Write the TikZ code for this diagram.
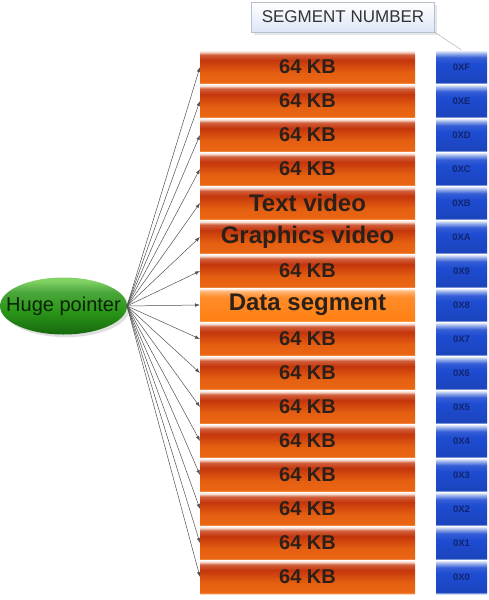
\documentclass[tikz,border=0pt]{standalone}
\usepackage{fontspec}
\setmainfont{Liberation Sans}
\usetikzlibrary{shadows, arrows.meta, positioning, shapes}
\definecolor{my_red}{RGB}{196, 54, 12}
\definecolor{my_orange}{RGB}{234, 102, 18}
\definecolor{my_pink}{RGB}{246, 212, 200}
\definecolor{my_line}{RGB}{252, 214, 180}
\definecolor{my_dataorange}{RGB}{255, 128, 18}
\definecolor{my_blue}{RGB}{30, 76, 210}
\definecolor{my_paleblue}{RGB}{206, 220, 244}
\definecolor{my_darkblue}{RGB}{18, 36, 110}
\definecolor{my_green}{RGB}{42, 150, 24}
\definecolor{my_darkgreen}{RGB}{22, 104, 14}
\definecolor{my_lightgreen}{RGB}{130, 210, 100}
\definecolor{my_text}{RGB}{44, 32, 24}
\definecolor{my_arrow}{RGB}{80, 80, 80}
\pgfdeclareverticalshading{segshade}{100bp}{color(0bp)=(my_line); color(25bp)=(my_line); color(27bp)=(my_orange); color(42bp)=(my_orange!85!my_red); color(60bp)=(my_red); color(68bp)=(my_red!75!my_pink); color(72bp)=(my_pink); color(75bp)=(white); color(100bp)=(white)}
\pgfdeclareverticalshading{datashade}{100bp}{color(0bp)=(my_line); color(25bp)=(my_line); color(27bp)=(my_dataorange); color(62bp)=(my_dataorange!90!white); color(70bp)=(my_dataorange!60!white); color(75bp)=(white); color(100bp)=(white)}
\pgfdeclareverticalshading{numshade}{100bp}{color(0bp)=(my_paleblue); color(25bp)=(my_paleblue); color(28bp)=(my_blue!90!black); color(55bp)=(my_blue); color(64bp)=(my_blue!90!white); color(70bp)=(my_paleblue!70!my_blue); color(75bp)=(white); color(100bp)=(white)}
\pgfdeclareverticalshading{greenshade}{100bp}{color(0bp)=(my_darkgreen); color(25bp)=(my_darkgreen); color(45bp)=(my_green); color(62bp)=(my_green!85!white); color(72bp)=(my_lightgreen); color(75bp)=(my_lightgreen); color(100bp)=(my_lightgreen)}
\tikzset {
  seg/.style = {rectangle, minimum width=215pt, minimum height=34pt, inner sep=0, shading=segshade, text=my_text, font=\fontsize{20}{22}\selectfont\bfseries},
  bigseg/.style = {seg, font=\fontsize{24}{26}\selectfont\bfseries},
  dataseg/.style = {bigseg, shading=datashade},
  num/.style = {rectangle, minimum width=51pt, minimum height=34pt, inner sep=0, shading=numshade, text=my_darkblue, font=\fontsize{9.5}{10}\selectfont\bfseries},
  pointer/.style = {ellipse, minimum width=127pt, minimum height=57pt, inner xsep=-14pt, inner ysep=0pt, shading=greenshade, text=my_darkgreen!35!black, font=\fontsize{20}{22}\selectfont, drop shadow={opacity=0.25}},
  title/.style = {rectangle, draw=my_paleblue!70!gray, minimum width=183pt, minimum height=30pt, top color=white, bottom color=my_paleblue!70!white, text=black!80, font=\fontsize{17}{19}\selectfont, drop shadow={opacity=0.2}},
  line/.style = {-{Latex[length=5pt, width=3.5pt]}, line width=0.5pt, color=my_arrow},
  callout/.style = {line width=0.5pt, color=gray!60}
}

\begin{document}
\begin{tikzpicture}[x=1pt, y=-1pt, outer sep=0, node distance=0pt]
    \useasboundingbox (0,0) rectangle (489,600);

    \node[seg, name=segF] (segF) at (307.5,67) {64 KB};
    \node[seg, below=0pt of segF] (segE) {64 KB};
    \node[seg, below=0pt of segE] (segD) {64 KB};
    \node[seg, below=0pt of segD] (segC) {64 KB};
    \node[bigseg, below=0pt of segC] (segB) {Text video};
    \node[bigseg, below=0pt of segB] (segA) {Graphics video};
    \node[seg, below=0pt of segA] (seg9) {64 KB};
    \node[dataseg, below=0pt of seg9] (seg8) {Data segment};
    \node[seg, below=0pt of seg8] (seg7) {64 KB};
    \node[seg, below=0pt of seg7] (seg6) {64 KB};
    \node[seg, below=0pt of seg6] (seg5) {64 KB};
    \node[seg, below=0pt of seg5] (seg4) {64 KB};
    \node[seg, below=0pt of seg4] (seg3) {64 KB};
    \node[seg, below=0pt of seg3] (seg2) {64 KB};
    \node[seg, below=0pt of seg2] (seg1) {64 KB};
    \node[seg, below=0pt of seg1] (seg0) {64 KB};

    \node[num, right=21pt of segF] (numF) {0XF};
    \node[num, below=0pt of numF] (numE) {0XE};
    \node[num, below=0pt of numE] (numD) {0XD};
    \node[num, below=0pt of numD] (numC) {0XC};
    \node[num, below=0pt of numC] (numB) {0XB};
    \node[num, below=0pt of numB] (numA) {0XA};
    \node[num, below=0pt of numA] (num9) {0X9};
    \node[num, below=0pt of num9] (num8) {0X8};
    \node[num, below=0pt of num8] (num7) {0X7};
    \node[num, below=0pt of num7] (num6) {0X6};
    \node[num, below=0pt of num6] (num5) {0X5};
    \node[num, below=0pt of num5] (num4) {0X4};
    \node[num, below=0pt of num4] (num3) {0X3};
    \node[num, below=0pt of num3] (num2) {0X2};
    \node[num, below=0pt of num2] (num1) {0X1};
    \node[num, below=0pt of num1] (num0) {0X0};

    \node[title] (segnumber) at (343,17) {SEGMENT NUMBER};
    \draw[callout] (segnumber.south east) -- (numF.north);

    \node[pointer] (huge) at (63.5,306) {Huge pointer};

    \draw[line] (huge.east) -- (segF.west);
    \draw[line] (huge.east) -- (segE.west);
    \draw[line] (huge.east) -- (segD.west);
    \draw[line] (huge.east) -- (segC.west);
    \draw[line] (huge.east) -- (segB.west);
    \draw[line] (huge.east) -- (segA.west);
    \draw[line] (huge.east) -- (seg9.west);
    \draw[line] (huge.east) -- (seg8.west);
    \draw[line] (huge.east) -- (seg7.west);
    \draw[line] (huge.east) -- (seg6.west);
    \draw[line] (huge.east) -- (seg5.west);
    \draw[line] (huge.east) -- (seg4.west);
    \draw[line] (huge.east) -- (seg3.west);
    \draw[line] (huge.east) -- (seg2.west);
    \draw[line] (huge.east) -- (seg1.west);
    \draw[line] (huge.east) -- (seg0.west);

\end{tikzpicture}
\end{document}
